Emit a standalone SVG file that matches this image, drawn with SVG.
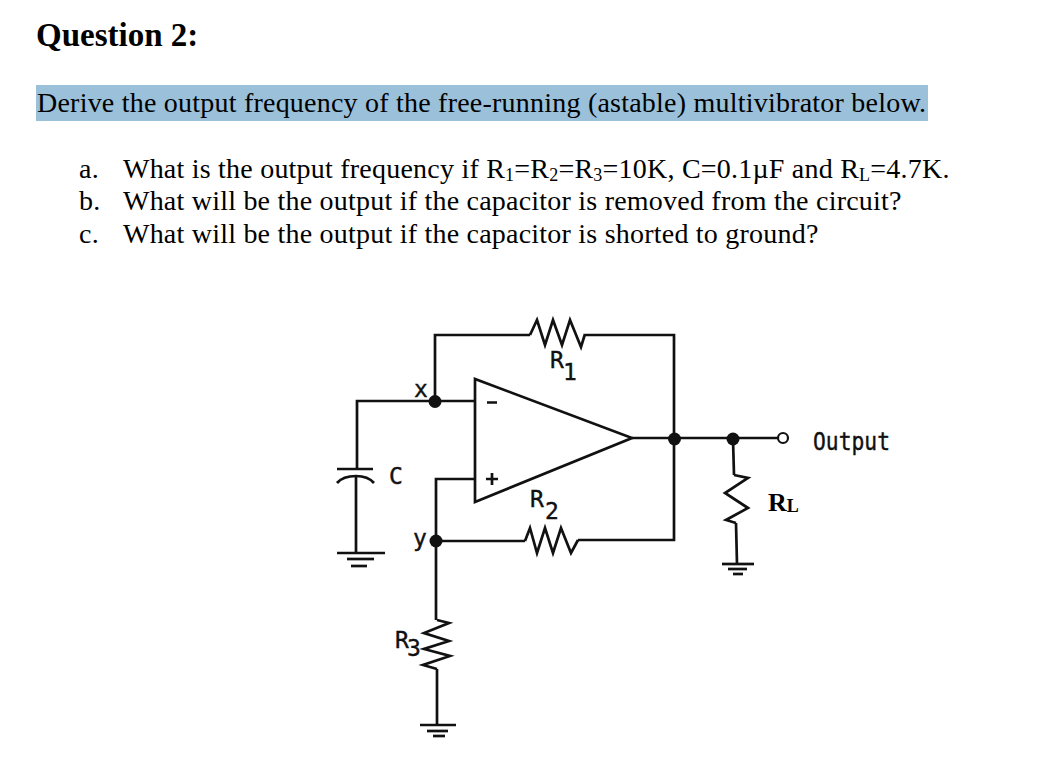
<svg xmlns="http://www.w3.org/2000/svg" width="1064" height="765" viewBox="0 0 1064 765">
<style>
.q{font-family:"Liberation Serif","Times New Roman",serif;fill:#000}
.t{font-size:28px;letter-spacing:.22px}
.w{fill:none;stroke:#111;stroke-width:2.7;stroke-linejoin:miter}
.d{fill:#111;stroke:none}
.l{font-family:"DejaVu Sans Mono","Liberation Mono",monospace;fill:#111;font-size:23px;stroke:#111;stroke-width:.4}
.s{font-size:18px}
</style>
<rect width="1064" height="765" fill="#fff"/>
<g id="question-text">
<rect x="36" y="85" width="892" height="36" fill="#9ac0da"/>
<text class="q" x="36" y="46" font-size="33" font-weight="bold">Question 2:</text>
<text class="q t" x="37" y="112">Derive the output frequency of the free-running (astable) multivibrator below.</text>
<text class="q t" x="79" y="178">a.</text>
<text class="q t" x="123" y="178">What is the output frequency if R<tspan class="s" dy="3">1</tspan><tspan dy="-3">=R</tspan><tspan class="s" dy="3">2</tspan><tspan dy="-3">=R</tspan><tspan class="s" dy="3">3</tspan><tspan dy="-3">=10K, C=0.1µF and R</tspan><tspan class="s" dy="3">L</tspan><tspan dy="-3">=4.7K.</tspan></text>
<text class="q t" x="79" y="210">b.</text>
<text class="q t" x="123" y="210">What will be the output if the capacitor is removed from the circuit?</text>
<text class="q t" x="79" y="243">c.</text>
<text class="q t" x="123" y="243">What will be the output if the capacitor is shorted to ground?</text>
</g>
<g id="connectors">
<path class="w" d="M530 335H435V401M357 469V401H475"/>
<path class="w" d="M585 335H674V540H578"/>
<path class="w" d="M525 541H436V479H475M436 541V620"/>
<path class="w" d="M632 438H778"/>
<path class="w" d="M733 439L734 475"/>
<path class="w" d="M356 476V553"/>
<path class="w" d="M437 669V725"/>
<path class="w" d="M736 523L737 564"/>
</g>
<g id="opamp">
<path class="w" d="M475 379V502L632 438Z"/>
<path class="w" d="M487 402.500H497M492 473V485M486 479H498"/>
</g>
<g id="R1">
<path class="w" d="M530 335L537 320L545 345L553 320L562 345L570 320L581 347L585 334"/>
<text class="l" x="550" y="368">R</text><text class="l" x="563" y="380">1</text>
</g>
<g id="R2">
<path class="w" d="M525 541L530 528L537 553L545 528L553 553L561 528L571 553L578 540"/>
<text class="l" x="530" y="507">R</text><text class="l" x="545" y="519">2</text>
</g>
<g id="R3">
<path class="w" d="M437 620L449 623L424 633L449 641L424 649L450 656L423 665L437 669"/>
<text class="l" x="395" y="648">R</text><text class="l" x="407" y="656">3</text>
</g>
<g id="RL">
<path class="w" d="M734 475L748 478L725 493L748 508L726 520L736 523"/>
<text class="q" x="768" y="511" font-size="26" font-weight="bold" fill="#1a1a2a">R<tspan font-size="18" dy="1">L</tspan></text>
</g>
<g id="capacitor-C">
<path class="w" d="M337 469H373"/>
<path class="w" d="M337 483Q343 476 356 476Q368 476 374 483"/>
<text class="l" x="389" y="484">C</text>
</g>
<g id="node-x">
<circle class="d" cx="435" cy="401.500" r="6.500"/>
<text class="l" x="414" y="397">x</text>
</g>
<g id="node-y">
<circle class="d" cx="436" cy="541" r="6.500"/>
<text class="l" x="413" y="546">y</text>
</g>
<g id="node-out">
<circle class="d" cx="674.500" cy="439" r="6.500"/>
</g>
<g id="node-load">
<circle class="d" cx="733" cy="439" r="6.500"/>
</g>
<g id="output-terminal">
<circle cx="783" cy="438" r="5" fill="#fff" stroke="#111" stroke-width="2.200"/>
<text class="l" x="813" y="450" font-size="24" textLength="77" lengthAdjust="spacingAndGlyphs" style="font-size:24px">Output</text>
</g>
<g id="ground-C">
<path class="w" d="M337 553H385"/><path class="w" d="M347 559H374"/><path class="w" d="M351 566H367"/>
</g>
<g id="ground-R3">
<path class="w" d="M420 725H456"/><path class="w" d="M427 731H448"/><path class="w" d="M433 736H445"/>
</g>
<g id="ground-RL">
<path class="w" d="M722 564H754"/><path class="w" d="M728 569H747"/><path class="w" d="M733 574H743"/>
</g>
</svg>
